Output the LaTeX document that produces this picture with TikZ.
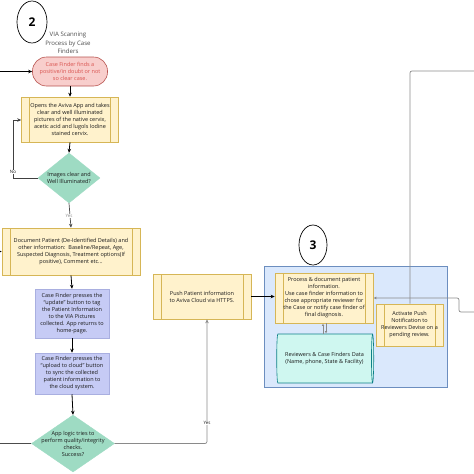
\documentclass[tikz,border=0pt]{standalone}
\usepackage{fontspec}
\setmainfont{Open Sans}
\usetikzlibrary{arrows.meta,shapes.geometric,calc}
\definecolor{pinkF}{HTML}{F8CECC}
\definecolor{pinkD}{HTML}{B85450}
\definecolor{pinkT}{HTML}{D9534F}
\definecolor{yelF}{HTML}{FFF2CC}
\definecolor{yelD}{HTML}{D6B656}
\definecolor{grnF}{HTML}{9EDBC3}
\definecolor{lavF}{HTML}{C6CBF5}
\definecolor{lavD}{HTML}{A9AFE0}
\definecolor{bluF}{HTML}{DAE8FC}
\definecolor{bluD}{HTML}{6C8EBF}
\definecolor{cyF}{HTML}{CFF7F0}
\definecolor{cyD}{HTML}{0E8088}
\definecolor{txt}{HTML}{1A1A1A}
\definecolor{lnG}{HTML}{8A8A8A}
\tikzset{
  x=1pt,y=-1pt,
  every node/.style={font=\fontsize{5.5}{7}\selectfont, text=txt, align=center, inner sep=0pt},
  every label/.style={font=\fontsize{5.5}{7}\selectfont, text=txt, align=center, inner sep=0pt},
  procbox/.style={draw=yelD, fill=yelF, line width=0.6pt, rectangle,
    path picture={\draw[yelD,line width=0.6pt]
      ([xshift=8pt]path picture bounding box.north west) -- ([xshift=8pt]path picture bounding box.south west)
      ([xshift=-8pt]path picture bounding box.north east) -- ([xshift=-8pt]path picture bounding box.south east);}},
  lavbox/.style={draw=lavD, fill=lavF, line width=0.5pt, rectangle},
  decide/.style={diamond, fill=grnF, draw=grnF, inner sep=0pt},
  blk/.style={draw=black, line width=0.8pt, -{Stealth[length=4pt,width=3.5pt]}},
  gry/.style={draw=lnG, line width=0.7pt, rounded corners=2pt},
  gryarr/.style={gry, -{Stealth[length=4pt,width=3.5pt]}},
  lbl/.style={fill=white, inner sep=0.6pt, font=\fontsize{4.5}{5}\selectfont},
  circ/.style={draw=black, line width=0.7pt, ellipse, font=\fontsize{12}{12}\bfseries\selectfont, text=black}
}
\begin{document}
\begin{tikzpicture}
\useasboundingbox (0,0) rectangle (474,474);
% container
\node[draw=bluD, fill=bluF, line width=0.7pt, rectangle, minimum width=183pt, minimum height=121pt] (cont) at (355.5,326.5) {};
% section 2
\node[circ, minimum width=30pt, minimum height=42pt] (c2) at (32,22) {2};
\node[font=\fontsize{6.1}{8.5}\selectfont, text=black!70] (title) at (68,43) {VIA Scanning\\Process by Case\\Finders};
\node[draw=pinkD, fill=pinkF, line width=0.6pt, rounded corners=14pt, minimum width=75pt, minimum height=29pt, text=pinkT] (term) at (70,71.5) {Case Finder finds a\\positive/in doubt or not\\so clear case.};
\node[procbox, minimum width=97pt, minimum height=45pt] (opens) at (70,119.5) {Opens the Aviva App and takes\\clear and well illuminated\\pictures of the native cervix,\\acetic acid and lugols Iodine\\stained cervix.};
\node[decide, minimum width=62pt, minimum height=50pt, label={center:Images clear and\\Well Illuminated?}] (d1) at (69,178) {};
\node[procbox, minimum width=138pt, minimum height=47pt] (doc) at (71,251.5) {Document Patient (De-Identified Details) and\\other information:\ \ Baseline/Repeat, Age,\\Suspected Diagnosis, Treatment options(If\\positive), Comment etc...};
\node[lavbox, minimum width=74pt, minimum height=49pt] (b1) at (72,313.5) {Case Finder presses the\\``update'' button to tag\\the Patient Information\\to the VIA Pictures\\collected. App returns to\\home-page.};
\node[lavbox, minimum width=74pt, minimum height=41pt] (b2) at (72,373.5) {Case Finder presses the\\``upload to cloud'' button\\to sync the collected\\patient information to\\the cloud system.};
\node[decide, minimum width=83pt, minimum height=57pt, label={center:App logic tries to\\perform quality/integrity\\checks.\\Success?}] (d2) at (73,443.5) {};
% middle
\node[procbox, minimum width=98pt, minimum height=45pt] (push) at (202,296.5) {Push Patient information\\to Aviva Cloud via HTTPS.};
% section 3
\node[circ, minimum width=28pt, minimum height=40pt] (c3) at (313,245) {3};
\node[procbox, minimum width=98pt, minimum height=50pt] (proc) at (324,298) {Process \& document patient\\information.\\Use case finder information to\\chose appropriate reviewer for\\the Case or notify case finder of\\final diagnosis.};
\node[cylinder, draw=cyD, fill=cyF, line width=0.6pt, shape aspect=0.18, minimum width=49pt, minimum height=97pt] (cyl) at (324.5,358.5) {Reviewers \& Case Finders Data\\(Name, phone, State \& Facility)};
\node[procbox, minimum width=67pt, minimum height=42pt] (act) at (409.5,325) {Activate Push\\Notification to\\Reviewers Devise on a\\pending review.};
% coordinates
\coordinate (inL) at (0,71.5);
\coordinate (nocorner) at (13,120);
\coordinate (docin) at (-1,251.5);
\coordinate (outL) at (0,443.5);
\coordinate (yc) at (207,443.5);
\coordinate (topR) at (474,71);
\coordinate (topC) at (410,71);
\coordinate (r1) at (474,312);
\coordinate (r2) at (459,298);
% connectors
\draw[blk] (inL) -- (term.west);
\draw[blk] (term.south) -- (opens.north);
\draw[blk] (opens.south) -- (d1.north);
\draw[draw=black!75, line width=0.7pt, -{Stealth[length=4pt,width=3.5pt]}] (d1.west) -| (nocorner) -- (nocorner -| opens.west);
\node[lbl] (nol) at (13,172) {No};
\draw[draw=black!70, line width=0.7pt, -{Stealth[length=4pt,width=3.5pt]}] (d1.south) -- (doc.north);
\node[lbl, text=black!45] (yes1) at (69,216) {Yes};
\draw[blk] (docin) -- (doc.west);
\draw[blk] (doc.south) -- (b1.north);
\draw[blk] (b1.south) -- (b2.north);
\draw[blk] (b2.south) -- (d2.north);
\draw[draw=black!70, line width=0.7pt] (d2.west) -- (outL);
\draw[gryarr] (d2.east) -- (yc) -- (yc |- push.south);
\node[lbl] (yes2) at (207,423) {Yes};
\draw[blk] (push.east) -- (push.east -| proc.west);
\draw[gry] (topR) -- (topC) -- (topC |- act.north);
\draw[gry, -{Latex[open,length=3pt,width=3pt]}] (r1) -| (r2) -- (r2 -| proc.east);
\draw[draw=lnG, line width=0.5pt, -{Latex[open,length=2.5pt,width=2.5pt]}] ([xshift=-1.5pt]cyl.north) -- ([xshift=-1.5pt]cyl.north |- proc.south);
\draw[draw=lnG, line width=0.5pt, -{Latex[open,length=2.5pt,width=2.5pt]}] ([xshift=1.5pt]cyl.north |- proc.south) -- ([xshift=1.5pt]cyl.north);
\end{tikzpicture}
\end{document}
